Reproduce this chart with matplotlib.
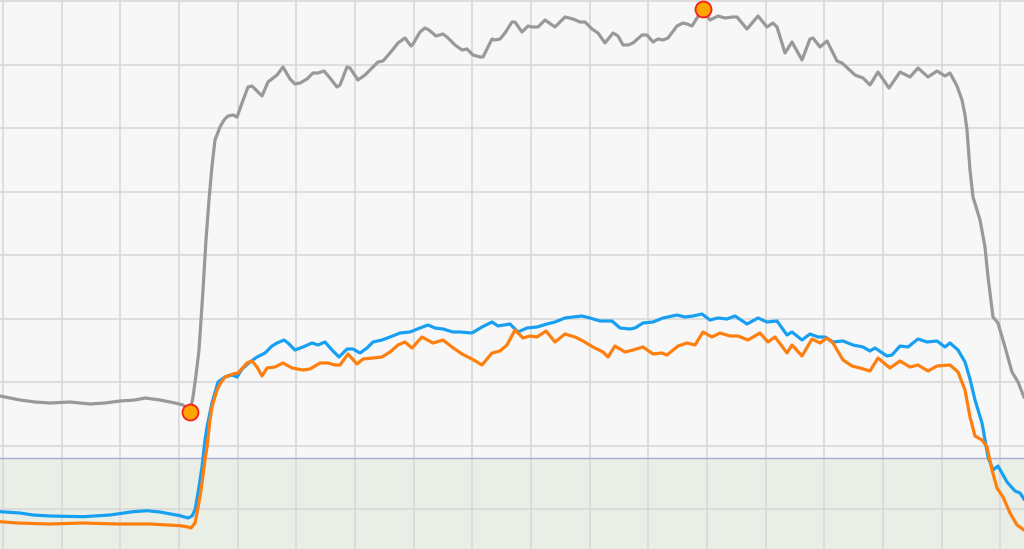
import matplotlib
matplotlib.use("Agg")
import matplotlib.pyplot as plt
import numpy as np

# ---- data ----
gray_x = [0,10,20,35,50,70,90,105,120,135,
          145,160,175,183,190,193,196,199,203,206,
          209,212,215,220,224,228,233,237,242,248,
          252,257,262,268,277,283,290,295,300,307,
          313,318,324,330,337,340,347,350,358,365,
          372,378,383,390,398,405,411,413,420,425,
          429,436,443,447,455,462,467,473,480,483,
          492,495,500,505,512,515,522,528,532,538,
          545,555,565,573,580,585,592,598,605,613,
          618,623,628,633,642,647,653,658,663,668,
          677,683,687,692,697,703,710,718,725,733,
          737,747,758,767,773,777,785,792,802,810,
          813,820,827,837,842,855,863,870,878,889,
          900,910,918,928,937,945,950,957,962,965,
          967,970,973,980,985,988,993,998,1005,1012,
          1018,1024]
gray_y = [153,151,149,147,146,147,145,146,148,149,
          151,149,146,144,137.3,152,174,199,259,309,
          349,383,409,422,429,433,434,432,446,462,
          463,458,453,467,474,482,470,465,466,470,
          476,476,478,471,462,464,482,481,469,474,
          481,487,488,496,506,511,503,505,517,521,
          519,513,515,512,504,499,500,494,492,492,
          510,509,510,516,527,527,517,523,522,522,
          529,522,532,530,527,527,520,516,506,516,
          513,504,504,506,514,514,507,510,509,511,
          523,526,525,523,531,539.7,529,533,531,532,
          532,520,533,522,526,522,496,507,489,510,
          511,502,508,488,486,474,471,464,477,461,
          477,472,481,472,478,473,476,463,449,434,
          419,379,352,329,302,272,232,226,202,177,
          167,152]

blue_x = [0,20,33,50,83,110,133,147,160,180,
          188,192,195,198,200,202,205,207,212,218,
          225,232,237,242,250,257,265,272,277,284,
          288,295,303,312,318,325,332,339,347,353,
          360,367,373,382,390,400,410,420,428,435,
          443,453,460,472,482,492,498,510,518,527,
          537,547,555,565,573,582,590,600,612,620,
          630,635,643,653,663,677,685,693,702,710,
          718,727,735,747,758,767,777,787,792,802,
          810,818,825,833,843,853,863,870,875,887,
          892,900,908,918,927,937,945,950,958,965,
          970,975,982,988,993,998,1007,1015,1020,1024]
blue_y = [37.3,36,34,33,32.3,34,37.3,38.3,37,33.3,
          31,33,39,56,69,82,109,122,146,167,
          172,174,172,180,187,192,196,203,206,209,
          206,199,202,206,204,207,199,192,200,200,
          196,201,207,209,212,216,217,221,224,221,
          220,217,217,216,222,227,223,225,217,221,
          222,225,227,231,232,233,231,228,228,221,
          220,221,226,227,231,234,232,233,235,229,
          231,230,233,225,231,227,228,214,217,209,
          215,212,212,207,208,204,202,198,201,193,
          194,203,202,210,207,208,202,206,199,187,
          170,149,126,92,79,83,67,58,56,50]

orange_x = [0,17,50,83,117,150,180,188,191,195,
            197,200,202,205,207,210,212,217,220,225,
            233,238,247,252,257,262,267,275,283,292,
            303,310,320,328,335,340,348,357,363,373,
            382,390,398,405,412,422,433,443,452,462,
            472,482,492,500,507,515,523,530,537,546,
            555,565,575,583,593,603,608,615,625,633,
            643,653,662,667,678,687,695,703,712,720,
            730,738,748,760,768,775,787,792,802,812,
            820,827,833,843,852,860,870,878,890,900,
            910,918,928,937,950,958,965,970,975,982,
            987,992,997,1003,1010,1017,1024]
orange_y = [27.3,26,25,26,25,25,23.3,22,21,26,
            36,52,66,89,102,129,142,159,165,172,
            175,176,186,188,182,173,181,182,186,181,
            179,180,186,186,184,184,195,185,190,191,
            192,197,204,207,201,212,206,209,202,195,
            190,184,196,198,204,219,211,213,212,218,
            207,215,212,208,202,197,192,203,197,199,
            202,195,196,194,203,206,204,217,212,216,
            213,213,209,216,207,212,196,204,193,210,
            206,211,206,189,183,181,178,191,181,188,
            182,184,178,183,184,177,159,132,113,109,
            102,79,61,52,36,24,19]

marker_x = [190, 703]          # highlighted points on the gray series
threshold = 91.5               # top of the shaded band

x_grid = [3 + 58.67 * k for k in range(18)]
y_grid = [548 - 63.5 * k for k in range(9)]

# ---- figure ----
fig = plt.figure(figsize=(10.24, 5.49), dpi=100)
ax = fig.add_axes([0, 0, 1, 1])
ax.set_facecolor("#f7f7f7")
ax.set_xlim(0, 1024)
ax.set_ylim(0, 549)

ax.axhspan(0, threshold, color="#e9efe7", zorder=0.1, lw=0)
ax.axhline(threshold, color="#aaaad2", lw=1.0, zorder=0.6)

ax.set_xticks(x_grid)
ax.set_yticks(y_grid)
ax.grid(True, color="#d8d8d8", lw=1.2)
ax.set_axisbelow(True)
ax.tick_params(length=0, labelbottom=False, labelleft=False)
for s in ax.spines.values():
    s.set_visible(False)

lw = 2.3
ax.plot(gray_x, gray_y, color="#999999", lw=lw, zorder=3, solid_joinstyle="round")
ax.plot(blue_x, blue_y, color="#17a0f2", lw=lw, zorder=4, solid_joinstyle="round")
ax.plot(orange_x, orange_y, color="#ff7f0e", lw=lw, zorder=5, solid_joinstyle="round")

my = [gray_y[gray_x.index(m)] for m in marker_x]
ax.plot(marker_x, my, linestyle="none", marker="o", markersize=11.5,
        markerfacecolor="#ffa500", markeredgecolor="#ff1a1a", markeredgewidth=1.3,
        zorder=6)

fig.savefig("out.png", dpi=100)
